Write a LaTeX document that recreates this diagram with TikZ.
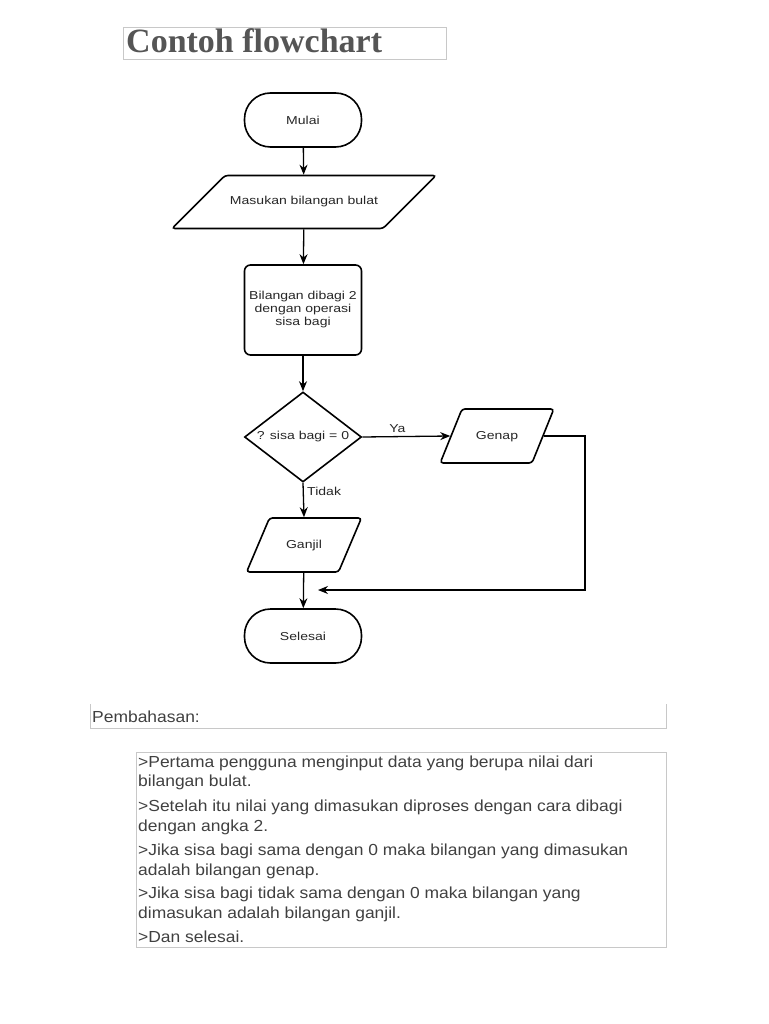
\documentclass[tikz,border=0pt]{standalone}
\usepackage{fontspec}
\usetikzlibrary{shapes.geometric,arrows.meta}
\newfontfamily\chartfont[FakeStretch=1.22]{Liberation Sans}
\newfontfamily\notefont[FakeStretch=1.09]{Liberation Sans}
\newfontfamily\titlefont{Liberation Serif}
\definecolor{titlegray}{HTML}{555555}
\definecolor{boxgray}{HTML}{C8C8C8}
\definecolor{notegray}{HTML}{404040}
\begin{document}
\begin{tikzpicture}[line cap=butt,line join=miter,>={Stealth[length=10pt,width=8pt]},x=1pt,y=-1pt]
	\tikzset{chart/.style={font=\chartfont\fontsize{11.5}{13}\selectfont,text=black!85},
		startstop/.style={chart,draw,line width=1.6pt,rounded corners=26pt,minimum width=117pt,minimum height=54pt},
		process/.style={chart,draw,line width=1.6pt,rounded corners=6pt,minimum width=117pt,minimum height=90pt,align=center},
		inout/.style={chart,draw,line width=1.6pt,rounded corners=3pt,trapezium,align=center,
			text height=8pt,text depth=2pt,inner xsep=0pt,inner ysep=22pt},
		decision/.style={chart,draw,line width=1.6pt,diamond,aspect=1.3,inner sep=0pt,minimum width=117pt,minimum height=90pt},
		line/.style={line width=1.3pt}
	}
	\useasboundingbox (0,0) rectangle (768,1024);
	% judul
	\draw[boxgray,line width=0.8pt] (123,27) rectangle (446,59);
	\node[font=\titlefont\bfseries\fontsize{34}{36}\selectfont,text=titlegray,anchor=base west,inner sep=0pt] (judul) at (126,53) {Contoh flowchart};
	% flowchart
	\node[startstop] (mulai) at (303,120) {Mulai};
	\node[inout,trapezium left angle=45,trapezium right angle=135,text width=158pt,inner ysep=21.5pt] (masuk) at (304,202) {Masukan bilangan bulat};
	\node[process] (proses) at (303,310) {Bilangan dibagi 2\\dengan operasi\\sisa bagi};
	\node[decision] (cek) at (303,437) {? sisa bagi = 0};
	\node[inout,trapezium left angle=68,trapezium right angle=112,text width=70pt] (genap) at (497,436) {Genap};
	\node[inout,trapezium left angle=67,trapezium right angle=113,text width=69pt] (ganjil) at (304,545) {Ganjil};
	\node[startstop] (selesai) at (303,636) {Selesai};
	\coordinate (belok) at (585,590);
	\coordinate (gabung) at (318,590);
	\draw[line,->] (mulai) -- (masuk);
	\draw[line,->] (masuk) -- (proses);
	\draw[line,->] (proses) -- (cek);
	\draw[line,->] (cek.east) -- node[chart,above,pos=0.4]{Ya} (genap.west);
	\draw[line,->] (cek.south) -- node[chart,right,pos=0.25]{Tidak} (ganjil.north);
	\draw[line,->] (ganjil) -- (selesai);
	\draw[line,->] (genap.east) -| (belok) -- (gabung);
	% pembahasan
	\draw[boxgray,line width=0.8pt] (90,704) |- (666,728) -- (666,704);
	\node[font=\notefont\fontsize{16}{19}\selectfont,text=notegray,anchor=base west,inner sep=0pt] (bahas) at (92,722) {Pembahasan:};
	\draw[boxgray,line width=0.8pt] (136,752) rectangle (666,947);
	\foreach \i/\y/\t in {1/767/>Pertama pengguna menginput data yang berupa nilai dari,
		2/786/bilangan bulat.,
		3/811/>Setelah itu nilai yang dimasukan diproses dengan cara dibagi,
		4/831/dengan angka 2.,
		5/855/>Jika sisa bagi sama dengan 0 maka bilangan yang dimasukan,
		6/875/adalah bilangan genap.,
		7/898/>Jika sisa bagi tidak sama dengan 0 maka bilangan yang,
		8/918/dimasukan adalah bilangan ganjil.,
		9/942/>Dan selesai.}{
		\node[font=\notefont\fontsize{16}{19}\selectfont,text=notegray,anchor=base west,inner sep=0pt] (baris\i) at (138,\y) {\t};
	}
\end{tikzpicture}
\end{document}
